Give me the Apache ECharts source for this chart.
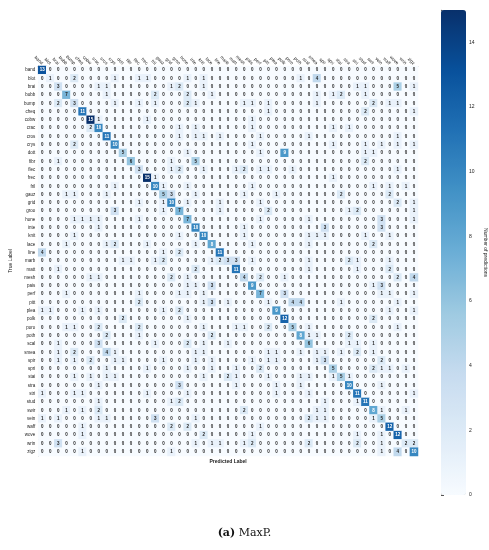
<!DOCTYPE html>
<html>
<head>
<meta charset="utf-8">
<script src="https://cdn.jsdelivr.net/npm/echarts@6/dist/echarts.min.js"></script>
<style>
  body { margin: 0; background: #fff; }
  #chart { width: 489px; height: 550px; }
</style>
</head>
<body>
<div id="chart"></div>
<script>
const classes = ['band','blot','brai','bubb','bump','cheq','cobw','crac','cros','crys','dott','fibr','flec','frec','fril','gauz',
  'grid','groo','hone','inte','knit','lace','line','marb','matt','mesh','pais','perf','pitt','plea','polk','poro',
  'poth','scal','smea','spir','spri','stai','stra','stri','stud','swir','vein','waff','wove','wrin','zigz'];

// correct predictions, one per class
const diagonal = [13,1,3,7,3,11,15,10,11,10,5,6,3,15,10,5,
  10,7,7,10,10,8,11,3,11,4,9,7,1,9,12,5,
  8,6,1,3,5,5,10,11,11,8,5,12,12,2,10];

// mistakes: [true row, predicted col, count]
const confusions = [
  [1,4,2],[1,9,1],[1,12,1],[1,13,1],[1,18,1],[1,20,1],[1,32,1],[1,34,4],
  [2,7,1],[2,8,1],[2,16,1],[2,17,2],[2,20,1],[2,39,1],[2,40,1],[2,44,5],[2,46,1],
  [3,8,1],[3,14,2],[3,18,2],[3,21,1],[3,34,1],[3,36,1],[3,37,2],[3,40,1],
  [4,2,2],[4,9,1],[4,12,1],[4,14,1],[4,18,2],[4,19,1],[4,25,1],[4,26,1],[4,28,1],[4,34,1],[4,41,2],[4,43,1],[4,44,1],
  [5,28,1],[5,40,2],[5,46,1],
  [6,7,1],[6,13,1],[6,26,1],
  [7,6,2],[7,17,1],[7,19,1],[7,26,1],[7,36,1],[7,38,1],
  [8,17,1],[8,19,1],[8,20,1],[8,22,1],[8,27,1],[8,33,1],[8,44,1],
  [9,4,2],[9,26,1],[9,36,1],[9,40,1],[9,42,1],[9,44,1],[9,46,1],
  [10,18,1],[10,27,1],[10,30,9],[10,40,1],[10,41,1],
  [11,2,1],[11,16,1],[11,19,5],[11,40,2],
  [12,16,1],[12,17,2],[12,20,1],[12,24,1],[12,25,2],[12,27,1],[12,28,1],[12,31,1],[12,44,1],
  [13,14,1],[13,36,1],
  [14,9,1],[14,15,1],[14,18,1],[14,26,1],[14,41,1],[14,43,1],[14,45,1],
  [15,3,1],[15,4,1],[15,8,1],[15,16,3],[15,19,1],[15,25,1],[15,29,1],[15,37,2],[15,43,2],
  [16,12,1],[16,15,1],[16,18,1],[16,22,1],[16,27,1],[16,44,2],[16,46,1],
  [17,9,3],[17,15,1],[17,22,1],[17,28,2],[17,38,1],[17,39,2],[17,46,1],
  [18,4,1],[18,5,1],[18,6,1],[18,7,1],[18,12,1],[18,27,1],[18,33,1],[18,42,3],[18,46,1],
  [19,7,1],[19,25,1],[19,35,3],[19,42,3],
  [20,4,1],[20,17,1],[20,25,1],[20,33,1],[20,34,1],[20,35,1],[20,40,1],[20,43,1],
  [21,3,1],[21,8,1],[21,9,2],[21,13,1],[21,19,1],[21,26,1],[21,33,1],[21,41,2],
  [22,0,4],[22,15,1],[22,17,2],
  [23,10,1],[23,11,1],[23,14,1],[23,15,2],[23,21,1],[23,22,2],[23,24,3],[23,26,1],[23,33,1],[23,38,2],[23,39,1],[23,43,1],
  [24,2,1],[24,19,2],[24,33,1],[24,39,1],[24,43,2],
  [25,6,1],[25,7,1],[25,16,2],[25,18,1],[25,27,2],[25,30,1],[25,44,2],[25,46,4],
  [26,18,1],[26,19,1],[26,21,3],[26,41,1],[26,42,3],
  [27,3,1],[27,12,1],[27,17,1],[27,18,1],[27,20,1],[27,30,3],[27,42,1],[27,43,1],[27,46,1],
  [28,12,2],[28,20,1],[28,21,3],[28,23,1],[28,31,4],[28,32,4],[28,37,1],[28,44,1],
  [29,0,1],[29,1,1],[29,5,1],[29,7,1],[29,15,1],[29,17,2],[29,43,1],[29,46,1],
  [30,10,2],[30,18,1],[30,41,2],
  [31,3,1],[31,4,1],[31,7,2],[31,12,2],[31,20,1],[31,24,1],[31,25,1],[31,28,2],[31,33,1],[31,44,1],
  [32,8,2],[32,12,1],[32,21,2],[32,33,1],[32,34,1],[32,38,2],
  [33,2,1],[33,7,3],[33,14,1],[33,18,2],[33,20,1],[33,23,1],[33,38,1],[33,39,1],[33,41,1],
  [34,2,1],[34,4,2],[34,8,4],[34,9,1],[34,19,1],[34,20,1],[34,28,1],[34,29,1],[34,32,1],[34,35,1],[34,37,1],[34,39,2],[34,41,1],
  [35,2,1],[35,4,1],[35,6,2],[35,9,1],[35,10,1],[35,15,1],[35,19,1],[35,21,1],[35,26,1],[35,28,1],[35,29,1],[35,34,1],[35,42,2],
  [36,8,1],[36,13,1],[36,18,1],[36,21,1],[36,24,1],[36,27,2],[36,41,2],[36,42,1],[36,43,1],[36,45,1],
  [37,4,1],[37,6,1],[37,8,1],[37,9,1],[37,20,1],[37,23,2],[37,24,1],[37,28,1],[37,32,1],[37,33,1],[37,36,1],[37,38,1],
  [38,7,1],[38,17,3],[38,24,1],[38,29,1],[38,32,1],[38,42,1],
  [39,0,1],[39,4,1],[39,5,1],[39,13,1],[39,18,1],[39,29,1],[39,33,1],[39,46,1],
  [40,7,1],[40,16,1],[40,17,2],[40,35,1],[40,39,1],
  [41,3,1],[41,5,1],[41,7,2],[41,25,2],[41,34,1],[41,35,1],[41,42,1],[41,45,1],
  [42,0,1],[42,2,1],[42,7,1],[42,8,1],[42,14,3],[42,19,1],[42,33,2],[42,34,1],[42,35,1],[42,41,1],
  [43,5,1],[43,16,2],[43,18,2],[43,27,1],
  [44,5,1],[44,20,2],[44,26,1],[44,39,1],[44,42,1],
  [45,2,3],[45,19,1],[45,21,1],[45,22,1],[45,25,1],[45,26,2],[45,33,2],[45,39,2],[45,42,1],[45,46,2],
  [46,5,1],[46,16,1],[46,42,1],[46,44,4]
];

const colorTicks = [0, 2, 4, 6, 8, 10, 12, 14];
const maxCount = 15;

const n = classes.length;
const matrix = classes.map(() => classes.map(() => 0));
confusions.forEach(([r, c, v]) => { matrix[r][c] = v; });
diagonal.forEach((v, i) => { matrix[i][i] = v; });

const cells = [];
for (let r = 0; r < n; r++) {
  for (let c = 0; c < n; c++) {
    const v = matrix[r][c];
    cells.push({ value: [c, r, v], label: { color: v >= 8 ? '#fff' : '#222' } });
  }
}

const chart = echarts.init(document.getElementById('chart'));
chart.setOption({
  animation: false,
  grid: [
    { left: 28, top: 66, width: 390, height: 390, containLabel: false },
    { left: 441, top: 10, width: 25, height: 485 }
  ],
  xAxis: [{
    type: 'category', data: classes, position: 'top', gridIndex: 0,
    axisLine: { lineStyle: { color: '#bbb' } }, axisTick: { show: false },
    axisLabel: { rotate: 45, fontSize: 4.5, color: '#222', margin: 2, interval: 0 },
    name: 'Predicted Label', nameLocation: 'middle', nameGap: -398,
    nameTextStyle: { fontSize: 5, fontWeight: 'bold', color: '#222' }
  }, {
    type: 'value', gridIndex: 1, show: false, min: 0, max: 1
  }],
  yAxis: [{
    type: 'category', data: classes, inverse: true, gridIndex: 0,
    axisLine: { lineStyle: { color: '#bbb' } }, axisTick: { show: false },
    axisLabel: { fontSize: 4.5, color: '#222', margin: 3, interval: 0 },
    name: 'True Label', nameLocation: 'middle', nameGap: 20,
    nameTextStyle: { fontSize: 5, color: '#222' }
  }, {
    type: 'value', gridIndex: 1, position: 'right', min: 0, max: maxCount,
    interval: 2, splitLine: { show: false },
    axisLine: { show: true, lineStyle: { color: '#ccc' } },
    axisTick: { show: true, length: 3, lineStyle: { color: '#555' } },
    axisLabel: { fontSize: 5, color: '#222', margin: 4,
      formatter: v => colorTicks.includes(v) ? String(v) : '' },
    name: 'Number of predictions', nameLocation: 'middle', nameGap: 18, nameRotate: -90,
    nameTextStyle: { fontSize: 5, color: '#222' }
  }],
  visualMap: {
    type: 'continuous', min: 0, max: maxCount, seriesIndex: 0,
    left: 441, top: 10, itemWidth: 25, itemHeight: 485, padding: 0,
    calculable: false, text: null, showLabel: false,
    inRange: { color: ['#f7fbff','#deebf7','#c6dbef','#9ecae1','#6baed6','#4292c6','#2171b5','#08519c','#08306b'] }
  },
  series: [{
    type: 'heatmap', xAxisIndex: 0, yAxisIndex: 0, data: cells,
    label: { show: true, fontSize: 4.5, fontWeight: 'bold' },
    itemStyle: { borderWidth: 0 }
  }, {
    type: 'scatter', xAxisIndex: 1, yAxisIndex: 1, data: []
  }],
  graphic: [{
    type: 'text', left: 'center', top: 528,
    style: {
      text: '{b|(a)} MaxP.', fontFamily: 'DejaVu Serif', fontSize: 11, fill: '#111',
      rich: { b: { fontWeight: 'bold', fontFamily: 'DejaVu Serif', fontSize: 11 } }
    }
  }]
});
</script>
</body>
</html>
